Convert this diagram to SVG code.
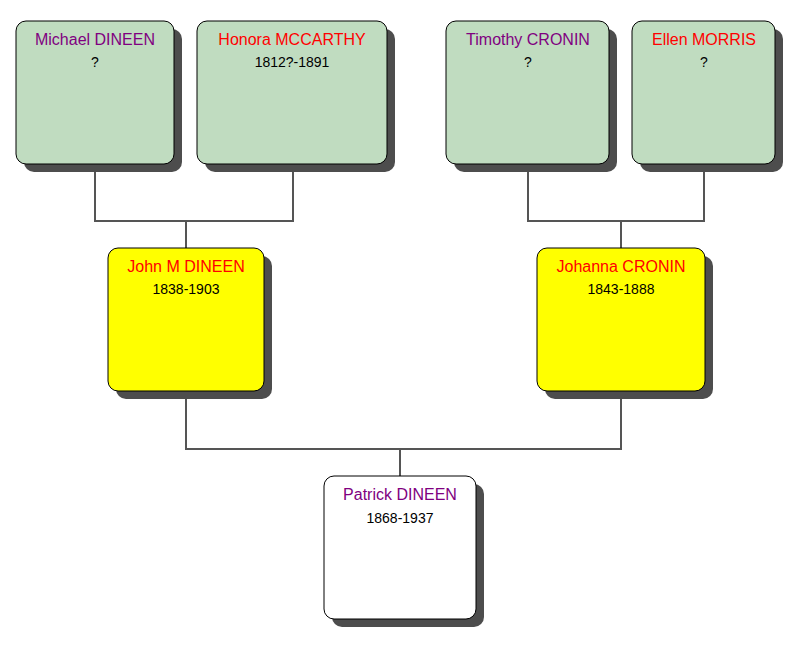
<svg xmlns="http://www.w3.org/2000/svg" width="801" height="646" viewBox="0 0 801 646">
<defs><style>
.sh{fill:#4d4d4d}
.b{stroke:#000;stroke-width:1}
.g{fill:#c0dcc0}.y{fill:#ffff00}.w{fill:#fff}
.n{font-family:"Liberation Sans",Arial,sans-serif;font-size:16px;text-anchor:middle}
.d{font-family:"Liberation Sans",Arial,sans-serif;font-size:14px;text-anchor:middle;fill:#000}
.p{fill:#800080}.r{fill:#ff0000}
.c{fill:none;stroke:#555;stroke-width:2}
</style></defs>
<rect width="801" height="646" fill="#fff"/>
<g id="connectors" class="c">
<polyline points="95,164 95,221 293,221 293,164"/><line x1="186" y1="221" x2="186" y2="248"/>
<polyline points="528,164 528,221 704,221 704,164"/><line x1="621" y1="221" x2="621" y2="248"/>
<polyline points="186,391 186,449 621,449 621,391"/><line x1="400" y1="449" x2="400" y2="476"/>
</g>
<g id="n1"><rect class="sh" x="24" y="29" width="158" height="143" rx="10"/><rect class="g b" x="16" y="21" width="158" height="143" rx="10"/><text class="n p" x="95" y="45">Michael  DINEEN</text><text class="d" x="95" y="67">?</text></g>
<g id="n2"><rect class="sh" x="205" y="29" width="190" height="143" rx="10"/><rect class="g b" x="197" y="21" width="190" height="143" rx="10"/><text class="n r" x="292" y="45">Honora MCCARTHY</text><text class="d" x="292" y="67">1812?-1891</text></g>
<g id="n3"><rect class="sh" x="454" y="29" width="163" height="143" rx="10"/><rect class="g b" x="446" y="21" width="163" height="143" rx="10"/><text class="n p" x="528" y="45">Timothy  CRONIN</text><text class="d" x="528" y="67">?</text></g>
<g id="n4"><rect class="sh" x="640" y="29" width="143" height="143" rx="10"/><rect class="g b" x="632" y="21" width="143" height="143" rx="10"/><text class="n r" x="704" y="45">Ellen  MORRIS</text><text class="d" x="704" y="67">?</text></g>
<g id="n5"><rect class="sh" x="116" y="256" width="156" height="143" rx="10"/><rect class="y b" x="108" y="248" width="156" height="143" rx="10"/><text class="n r" x="186" y="272">John M DINEEN</text><text class="d" x="186" y="294">1838-1903</text></g>
<g id="n6"><rect class="sh" x="545" y="256" width="168" height="143" rx="10"/><rect class="y b" x="537" y="248" width="168" height="143" rx="10"/><text class="n r" x="621" y="272">Johanna  CRONIN</text><text class="d" x="621" y="294">1843-1888</text></g>
<g id="n7"><rect class="sh" x="332" y="484" width="152" height="143" rx="10"/><rect class="w b" x="324" y="476" width="152" height="143" rx="10"/><text class="n p" x="400" y="500">Patrick  DINEEN</text><text class="d" x="400" y="523">1868-1937</text></g>
</svg>
